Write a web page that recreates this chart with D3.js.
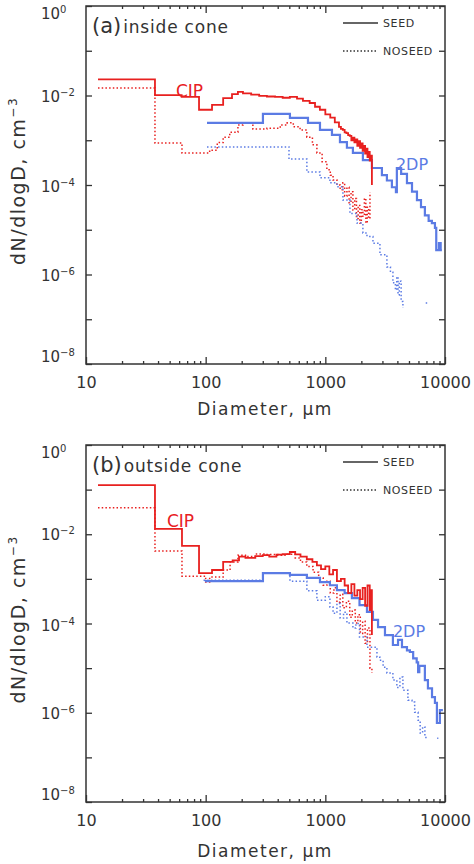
<!DOCTYPE html>
<html lang="en">
<head>
<meta charset="UTF-8">
<title>dN/dlogD, SEED vs NOSEED</title>
<script src="https://cdn.jsdelivr.net/npm/d3@7"></script>
<style>
  body { margin: 0; background: #fff; }
  svg text { font-family: "DejaVu Sans", sans-serif; fill: #333; }
</style>
</head>
<body>
<svg id="chart" width="474" height="864"></svg>
<script>
// [diameter um, dN/dlogD cm^-3] -- left edge of each bin, last point closes the step
// (a) inside cone
var aCipSeed = [[12.6, 2.3e-2], [37.7, 1.02e-2], [63, 9.3e-3], [88, 4.8e-3], [113, 6.2e-3], [140, 8.7e-3],
  [166, 1.07e-2], [186, 1.2e-2], [205, 1.12e-2], [240, 1.05e-2], [280, 9.8e-3], [325, 9.5e-3], [380, 9.3e-3],
  [440, 8.9e-3], [505, 9.3e-3], [580, 8.5e-3], [650, 7.6e-3], [740, 6.8e-3], [820, 5.6e-3], [900, 4.8e-3],
  [1000, 3.8e-3], [1100, 3.2e-3], [1200, 2.5e-3], [1300, 2.0e-3], [1350, 1.8e-3], [1400, 1.7e-3], [1450, 1.5e-3],
  [1500, 1.45e-3], [1550, 1.3e-3], [1600, 1.25e-3], [1650, 1.0e-3], [1700, 1.15e-3], [1750, 9e-4], [1800, 1.05e-3],
  [1850, 7.5e-4], [1900, 9.5e-4], [1950, 6.8e-4], [2000, 8.5e-4], [2050, 5.8e-4], [2100, 7.5e-4], [2150, 5.0e-4],
  [2200, 6.5e-4], [2250, 4.2e-4], [2300, 5.5e-4], [2350, 3.5e-4], [2400, 4.5e-4], [2450, 1.0e-4]];
var aCipNoseed = [[12.6, 1.48e-2], [37.7, 8.7e-4], [63.4, 5.2e-4], [108, 6.0e-4], [125, 8.9e-4], [140, 1.17e-3],
  [159, 1.51e-3], [186, 2.19e-3], [205, 2.45e-3], [248, 1.78e-3], [325, 1.86e-3], [420, 2.19e-3], [480, 2.45e-3],
  [540, 2.0e-3], [615, 1.7e-3], [700, 1.17e-3], [780, 7.9e-4], [850, 5.2e-4], [940, 3.3e-4], [1030, 2.2e-4],
  [1100, 1.66e-4], [1160, 1.29e-4], [1250, 1.0e-4], [1330, 7.8e-5], [1400, 1.12e-4], [1450, 5.6e-5], [1515, 8.9e-5],
  [1580, 4.0e-5], [1640, 7.1e-5], [1700, 2.75e-5], [1760, 5.0e-5], [1820, 1.78e-5], [1880, 3.5e-5], [1940, 1.41e-5],
  [2000, 2.8e-5], [2060, 2.0e-5], [2120, 5.0e-5], [2180, 1.41e-5], [2240, 3.2e-5], [2300, 1.78e-5], [2360, 6.9e-5]];
var a2dpSeed = [[102.6, 2.45e-3], [301, 3.9e-3], [506, 3.16e-3], [716, 2.45e-3], [902, 1.7e-3], [1136, 1.32e-3],
  [1325, 9.1e-4], [1515, 6.8e-4], [1700, 5.2e-4], [2060, 3.6e-4], [2450, 2.4e-4], [2970, 1.66e-4], [3270, 1.26e-4],
  [3600, 8.9e-5], [3890, 6.9e-5], [3960, 2.4e-4], [4300, 1.78e-4], [4810, 1.1e-4], [5300, 7.1e-5], [5830, 4.6e-5],
  [6300, 3.2e-5], [6790, 2.1e-5], [7300, 1.58e-5], [7770, 1.41e-5], [8240, 1.1e-5], [8450, 3.5e-6], [8900, 5.0e-6],
  [9200, 3.5e-6], [9420, 3.5e-6]];
var a2dpNoseed = [[102.6, 7.1e-4], [497, 3.8e-4], [701, 1.95e-4], [902, 1.45e-4], [1092, 1.12e-4], [1250, 9.1e-5],
  [1403, 4.6e-5], [1606, 2.3e-5], [1838, 1.41e-5], [2060, 8.5e-6], [2228, 7.1e-6], [2500, 5.0e-6], [2860, 2.75e-6],
  [3270, 1.48e-6], [3500, 1.12e-6], [3670, 6.5e-7], [3850, 4.5e-7], [3950, 8.9e-7], [4050, 3.5e-7], [4150, 7.1e-7],
  [4300, 2.5e-7], [4450, 1.78e-7], [5000, null], [6900, 2.3e-7], [7100, 2.3e-7]];

// (b) outside cone
var bCipSeed = [[12.6, 0.126], [37.7, 1.32e-2], [63.4, 5.5e-3], [88, 1.35e-3], [113, 1.58e-3], [140, 2.4e-3],
  [168, 2.6e-3], [190, 3.16e-3], [215, 2.95e-3], [260, 3.24e-3], [300, 3.4e-3], [340, 3.16e-3], [390, 3.5e-3],
  [440, 3.6e-3], [505, 4.0e-3], [560, 3.55e-3], [620, 3.16e-3], [700, 2.75e-3], [780, 2.4e-3], [850, 2.0e-3],
  [920, 1.66e-3], [1000, 1.9e-3], [1080, 1.26e-3], [1160, 1.58e-3], [1250, 8.9e-4], [1350, 1.0e-3], [1450, 7.1e-4],
  [1550, 4.8e-4], [1650, 7.6e-4], [1750, 4.2e-4], [1850, 5.6e-4], [1950, 3.5e-4], [2050, 6.3e-4], [2150, 2.5e-4],
  [2250, 7.1e-4], [2350, 2.0e-4], [2400, 5.6e-4], [2450, 5.5e-5]];
var bCipNoseed = [[12.6, 3.9e-2], [37.7, 4.2e-3], [63.4, 1.15e-3], [100, 8.5e-4], [108, 1.1e-3], [120, 1.1e-3],
  [140, 1.58e-3], [160, 2.4e-3], [186, 3.4e-3], [215, 3.16e-3], [260, 3.6e-3], [320, 3.5e-3], [400, 3.4e-3],
  [480, 3.55e-3], [560, 2.95e-3], [620, 2.4e-3], [700, 1.9e-3], [790, 1.41e-3], [880, 1.05e-3], [960, 7.2e-4],
  [1030, 8.9e-4], [1100, 4.8e-4], [1180, 6.3e-4], [1250, 3.0e-4], [1330, 4.5e-4], [1400, 2.24e-4], [1500, 3.16e-4],
  [1600, 1.38e-4], [1680, 2.0e-4], [1780, 1.02e-4], [1870, 1.58e-4], [1960, 6.0e-5], [2050, 1.12e-4], [2150, 3.6e-5],
  [2250, 7.9e-5], [2360, 1.0e-5], [2450, 7.8e-6]];
var b2dpSeed = [[98.6, 8.9e-4], [301, 1.35e-3], [506, 1.23e-3], [701, 1.05e-3], [902, 8.5e-4], [1092, 7.2e-4],
  [1250, 5.6e-4], [1450, 4.8e-4], [1667, 3.7e-4], [1930, 2.57e-4], [2228, 1.82e-4], [2500, 1.2e-4], [2757, 8.3e-5],
  [3150, 5.5e-5], [3670, 3.3e-5], [4050, 4.3e-5], [4370, 2.95e-5], [4810, 2.5e-5], [5090, 2.3e-5], [5420, 1.66e-5],
  [5800, 1.35e-5], [5960, 8.1e-6], [6100, 1.12e-5], [6790, 5.4e-6], [7200, 3.5e-6], [7790, 2.24e-6], [8240, 1.66e-6],
  [8560, 5.9e-7], [9060, 1.15e-6], [9600, 1.15e-6]];
var b2dpNoseed = [[96, 9.3e-4], [301, 1.35e-3], [506, 8.9e-4], [701, 5.4e-4], [850, 3.3e-4], [1000, 4.0e-4],
  [1092, 2.34e-4], [1160, 1.7e-4], [1250, 2.8e-4], [1330, 1.32e-4], [1420, 1.78e-4], [1515, 1.02e-4], [1700, 7.9e-5],
  [1800, 1.0e-4], [1930, 5.0e-5], [2228, 2.95e-5], [2700, 1.78e-5], [2850, 1.5e-5], [3040, 1.05e-5], [3270, 7.8e-6],
  [3670, 5.4e-6], [3960, 3.7e-6], [4200, 6.3e-6], [4450, 3.2e-6], [4900, 1.9e-6], [5300, 1.74e-6], [5580, 1.02e-6],
  [5960, 6.8e-7], [6200, 3.5e-7], [6500, 4.8e-7], [6790, 2.8e-7], [7070, 2.8e-7], [7500, null], [8600, 2.7e-7],
  [8800, 2.7e-7]];

var xTickLabels = [10, 100, 1000, 10000];
var xMinorTicks = [20, 30, 40, 50, 60, 70, 80, 90, 200, 300, 400, 500, 600, 700, 800, 900,
  2000, 3000, 4000, 5000, 6000, 7000, 8000, 9000];
var yDecades = [0, -1, -2, -3, -4, -5, -6, -7, -8];
var yLabelExps = [0, -2, -4, -6, -8];
var yLabelShift = [13, 6, 7, 6, -2];   // baseline offset of each label from its tick

var RED = "#e8201f", BLUE = "#5b7be4";

var panels = [
  { top: 6, bottom: 364, tag: "(a)", title: "inside cone", xLabelGap: 51,
    cipSeed: aCipSeed, cipNoseed: aCipNoseed, dpSeed: a2dpSeed, dpNoseed: a2dpNoseed,
    cipAt: [56.5, 9.3e-3], dpAt: [3890, 2.2e-4] },
  { top: 445, bottom: 802, tag: "(b)", title: "outside cone", xLabelGap: 55,
    cipSeed: bCipSeed, cipNoseed: bCipNoseed, dpSeed: b2dpSeed, dpNoseed: b2dpNoseed,
    cipAt: [47.5, 1.45e-2], dpAt: [3670, 5.0e-5] }
];

var svg = d3.select("#chart");
var x = d3.scaleLog().domain([10, 10000]).range([86, 445]);

panels.forEach(function(p) {
  var y = d3.scaleLog().domain([1e-8, 1]).range([p.bottom, p.top]);
  var g = svg.append("g");

  var line = d3.line()
    .defined(d => d[1] != null)
    .x(d => x(d[0]))
    .y(d => y(d[1]))
    .curve(d3.curveStepAfter);

  function series(data, color, width, dotted) {
    g.append("path")
      .datum(data)
      .attr("d", line)
      .attr("fill", "none")
      .attr("stroke", color)
      .attr("stroke-width", width)
      .attr("stroke-dasharray", dotted ? "1.5 2.2" : null);
  }
  series(p.cipNoseed, RED, 1.5, true);
  series(p.dpNoseed, BLUE, 1.5, true);
  series(p.dpSeed, BLUE, 2.2, false);
  series(p.cipSeed, RED, 1.8, false);

  // frame
  g.append("rect")
    .attr("x", 86).attr("y", p.top)
    .attr("width", 445 - 86).attr("height", p.bottom - p.top)
    .attr("fill", "none").attr("stroke", "#333").attr("stroke-width", 1.5);

  // inward ticks on all four sides
  function ticks(axis, transform) {
    var a = g.append("g").attr("transform", transform).call(axis);
    a.select(".domain").remove();
    a.selectAll("line").attr("stroke", "#333").attr("stroke-width", 1.3);
    return a;
  }
  ticks(d3.axisBottom(x).tickValues(xMinorTicks).tickSize(-3).tickFormat(""), "translate(0," + p.bottom + ")");
  ticks(d3.axisTop(x).tickValues(xMinorTicks).tickSize(-3).tickFormat(""), "translate(0," + p.top + ")");
  ticks(d3.axisTop(x).tickValues([100, 1000]).tickSize(-7).tickFormat(""), "translate(0," + p.top + ")");
  var xb = ticks(d3.axisBottom(x).tickValues(xTickLabels).tickSize(-7).tickPadding(13).tickFormat(d3.format("d")),
    "translate(0," + p.bottom + ")");
  xb.selectAll("text").attr("font-size", 16).attr("fill", "#333").style("font-family", "DejaVu Sans, sans-serif");

  var yVals = yDecades.map(e => Math.pow(10, e));
  ticks(d3.axisLeft(y).tickValues(yVals).tickSize(-6).tickFormat(""), "translate(86,0)");
  ticks(d3.axisRight(y).tickValues(yVals).tickSize(-6).tickFormat(""), "translate(445,0)");

  // y tick labels 10^n
  yLabelExps.forEach(function(e, i) {
    var t = g.append("text").attr("x", 41).attr("y", y(Math.pow(10, e)) + yLabelShift[i]).attr("font-size", 15);
    t.append("tspan").text("10");
    t.append("tspan").attr("dy", -6).attr("font-size", 10).text(e === 0 ? "0" : "\u2212" + (-e));
  });

  // axis titles
  var yt = g.append("text")
    .attr("transform", "translate(25," + ((p.top + p.bottom) / 2 - 4) + ") rotate(-90)")
    .attr("text-anchor", "middle").attr("font-size", 19).attr("letter-spacing", 1.5);
  yt.append("tspan").text("dN/dlogD, cm");
  yt.append("tspan").attr("dy", -8).attr("font-size", 12).text("\u22123");

  g.append("text")
    .attr("x", 265).attr("y", p.bottom + p.xLabelGap)
    .attr("text-anchor", "middle").attr("font-size", 17).attr("letter-spacing", 1.5)
    .text("Diameter, \u03bcm");

  // panel title
  var tt = g.append("text").attr("x", 92).attr("y", p.top + 27);
  tt.append("tspan").attr("font-size", 21).text(p.tag);
  tt.append("tspan").attr("font-size", 17).attr("dx", 2).attr("letter-spacing", 0.8).text(p.title);

  // legend
  [["SEED", false, 17], ["NOSEED", true, 45]].forEach(function(l) {
    g.append("line")
      .attr("x1", 343).attr("x2", 378)
      .attr("y1", p.top + l[2]).attr("y2", p.top + l[2])
      .attr("stroke", "#333").attr("stroke-width", 1.3)
      .attr("stroke-dasharray", l[1] ? "1.5 2" : null);
    g.append("text")
      .attr("x", 383).attr("y", p.top + l[2] + 4)
      .attr("font-size", 11).attr("letter-spacing", 0.6)
      .text(l[0]);
  });

  // instrument labels
  g.append("text").attr("x", x(p.cipAt[0])).attr("y", y(p.cipAt[1]))
    .attr("font-size", 17).style("fill", RED).text("CIP");
  g.append("text").attr("x", x(p.dpAt[0])).attr("y", y(p.dpAt[1]))
    .attr("font-size", 16).style("fill", BLUE).text("2DP");
});
</script>
</body>
</html>
